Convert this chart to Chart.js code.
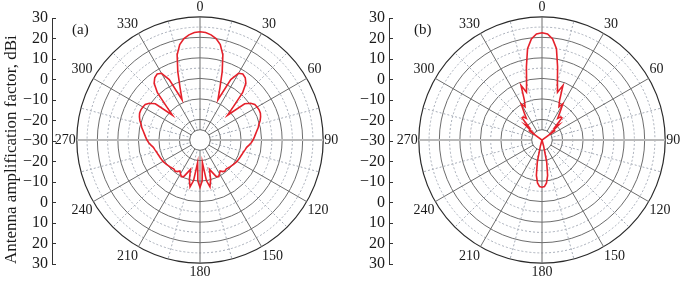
<!DOCTYPE html>
<html><head><meta charset="utf-8">
<script src="https://cdn.jsdelivr.net/npm/chart.js@4/dist/chart.umd.min.js"></script>
<style>
html,body{margin:0;padding:0;background:#fff;width:685px;height:282px;overflow:hidden;position:relative;}
canvas{position:absolute;top:0;}
.pl{position:absolute;font:15px "Liberation Serif",serif;line-height:15px;color:#1a1a1a;}
</style></head><body>
<canvas id="axA" width="56" height="282" style="left:0px"></canvas>
<canvas id="polA" width="330" height="282" style="left:35px"></canvas>
<canvas id="axB" width="56" height="282" style="left:337px"></canvas>
<canvas id="polB" width="330" height="282" style="left:377px"></canvas>
<div class="pl" style="left:72px;top:22px">(a)</div>
<div class="pl" style="left:414px;top:22px">(b)</div>
<script>
// ---- data ----
const angleDeg = [0,3,6,9,12,15,18,21,24,27,30,33,36,39,42,45,48,51,54,57,60,63,66,69,72,75,78,81,84,87,
  90,93,96,99,102,105,108,111,114,117,120,123,126,129,132,135,138,141,144,147,150,153,156,159,162,165,168,171,174,177,
  180,183,186,189,192,195,198,201,204,207,210,213,216,219,222,225,228,231,234,237,240,243,246,249,252,255,258,261,264,267,
  270,273,276,279,282,285,288,291,294,297,300,303,306,309,312,315,318,321,324,327,330,333,336,339,342,345,348,351,354,357];
const angleTickLabels = ['0','30','60','90','120','150','180','210','240','270','300','330'];
const yTickLabels = ['30','20','10','0','\u221210','\u221220','\u221230','\u221220','\u221210','0','10','20','30'];
const yTitle = 'Antenna amplification factor, dBi';

// gain, dBi, every 3 degrees starting at 0 (clockwise)
const gainA = [22.7,22.4,21.5,20,17.5,13,5,-3,-8.5,3,7.5,8.3,7.5,5.5,1,-7,-12,-2,0.5,1.8,
  2.1,2.3,2.2,1.6,0.8,-0.3,-1,-2,-2.8,-3.5,
  -4.2,-5,-6,-7,-7.5,-8,-8.3,-8.6,-8.8,-9,-9.2,-9.5,-9.8,-10.1,-10.4,-10.7,-11,-10.6,-11,-12,
  -11,-10,-10.5,-13,-15,-10,-6.7,-10,-19,-10,
  -7,-10,-19,-10,-6.7,-10,-15,-13,-10.5,-10,-11,-12,-11,-10.6,-11,-10.7,-10.4,-10.1,-9.8,-9.5,
  -9.2,-9,-8.8,-8.6,-8.3,-8,-7.5,-7,-6,-5,
  -4.2,-3.5,-2.8,-2,-1,-0.3,0.8,1.6,2.2,2.3,2.1,1.8,0.5,-2,-12,-7,1,5.5,7.5,8.3,
  7.5,3,-8.5,-3,5,13,17.5,20,21.5,22.4];
const gainB = [22.2,21.7,19.5,15,6.5,-1,-5.5,-1.5,-9,-11.8,-9.7,-14,-17,-15.5,-15.5,-21,-19,-24,-22,-30,
  -30,-30,-30,-30,-30,-30,-30,-30,-30,-30,
  -30,-30,-30,-30,-30,-30,-30,-30,-30,-30,-30,-30,-30,-30,-30,-30,-30,-30,-30,-30,
  -30,-30,-30,-30,-30,-27,-19,-12.5,-9,-7.3,
  -7,-7.3,-9,-12.5,-19,-27,-30,-30,-30,-30,-30,-30,-30,-30,-30,-30,-30,-30,-30,-30,
  -30,-30,-30,-30,-30,-30,-30,-30,-30,-30,
  -30,-30,-30,-30,-30,-30,-30,-30,-30,-30,-30,-30,-22,-24,-19,-21,-15.5,-15.5,-17,-14,
  -9.7,-11.8,-9,-1.5,-5.5,-1,6.5,15,19.5,21.7];

const rMin = -30, rMax = 30, rStep = 5, innerGrid = -25;

Chart.defaults.font.family = '"Liberation Serif", "Times New Roman", serif';
Chart.defaults.color = '#1a1a1a';

const solidGrid = '#6c6c6c', dashGrid = '#a7adb8', outerGrid = '#2a2a2a', axisGray = '#b9b9b9', red = '#e5212b';

const centerDisk = {
  id: 'centerDisk',
  beforeDatasetsDraw(chart) {
    const s = chart.scales.r, ctx = chart.ctx;
    const rr = s.getDistanceFromCenterForValue(innerGrid);
    ctx.save();
    ctx.beginPath();
    ctx.arc(s.xCenter, s.yCenter, rr, 0, Math.PI * 2);
    ctx.fillStyle = '#fff';
    ctx.fill();
    ctx.strokeStyle = solidGrid;
    ctx.lineWidth = 1;
    ctx.stroke();
    ctx.restore();
  }
};

function polarConfig(values) {
  return {
    type: 'radar',
    data: { labels: angleDeg, datasets: [{ data: values, borderColor: red, borderWidth: 1.6,
      pointRadius: 0, pointHoverRadius: 0, fill: false, tension: 0 }] },
    options: {
      responsive: false, animation: false, devicePixelRatio: 1,
      plugins: { legend: { display: false }, tooltip: { enabled: false } },
      scales: { r: {
        min: rMin, max: rMax, startAngle: 0,
        ticks: { display: false, stepSize: rStep },
        grid: {
          circular: true,
          color: c => c.tick.value === rMax ? outerGrid : (c.tick.value % 10 === 0 ? solidGrid : dashGrid),
          lineWidth: c => c.tick.value === rMax ? 1.2 : 1
        },
        border: { dash: c => (c.tick && c.tick.value % 10 !== 0) ? [2, 2] : [] },
        angleLines: {
          color: c => {
            const a = angleDeg[c.index];
            if (a === 90 || a === 270) return axisGray;
            if (a % 30 === 0) return solidGrid;
            if (a % 15 === 0) return dashGrid;
            return 'rgba(0,0,0,0)';
          },
          lineWidth: c => {
            const a = angleDeg[c.index];
            if (a === 90 || a === 270) return 2;
            return a % 15 === 0 ? 1 : 0;
          },
          borderDash: c => {
            const a = angleDeg[c.index];
            return (a % 15 === 0 && a % 30 !== 0) ? [2, 2] : [];
          }
        },
        pointLabels: {
          display: true, padding: 1, color: '#1a1a1a',
          font: { size: 14 },
          callback: (lab) => (lab % 30 === 0 ? angleTickLabels[lab / 30] : '')
        }
      } }
    },
    plugins: [centerDisk]
  };
}

function axisConfig(showTitle) {
  return {
    type: 'line',
    data: { datasets: [] },
    options: {
      responsive: false, animation: false, devicePixelRatio: 1,
      layout: { padding: { top: 18, bottom: 18, left: 0, right: 0 } },
      plugins: { legend: { display: false }, tooltip: { enabled: false } },
      scales: {
        x: { display: false },
        y: {
          type: 'category', labels: yTickLabels, offset: false, position: 'left',
          grid: { drawOnChartArea: true, drawTicks: false, color: '#333', lineWidth: 1 },
          border: { display: true, color: '#333', width: 1 },
          ticks: { padding: 4, color: '#1a1a1a', font: { size: 16 }, autoSkip: false },
          title: { display: showTitle, text: yTitle, align: 'start', color: '#1a1a1a', font: { size: 17 }, padding: { top: 1, bottom: 0 } },
          afterFit: s => { s.width = 52; }
        }
      }
    }
  };
}

new Chart(document.getElementById('axA'), axisConfig(true));
new Chart(document.getElementById('polA'), polarConfig(gainA));
new Chart(document.getElementById('axB'), axisConfig(false));
new Chart(document.getElementById('polB'), polarConfig(gainB));
</script>
</body></html>
